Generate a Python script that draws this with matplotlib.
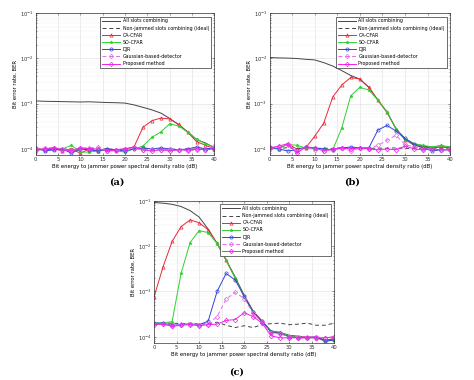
import matplotlib
matplotlib.use("Agg")
import matplotlib.pyplot as plt
from matplotlib.ticker import LogLocator, NullFormatter

# eje x comun (dB)
ebnj = [0, 2, 4, 6, 8, 10, 12, 14, 16, 18, 20, 22, 24, 26, 28, 30, 32, 34, 36, 38, 40]

labels = ["All slots combining", "Non-jammed slots combining (ideal)", "CA-CFAR",
          "SO-CFAR", "DJR", "Gaussian-based-detector", "Proposed method"]

# panel (a)
allslots_a = [1.15e-3, 1.13e-3, 1.12e-3, 1.11e-3, 1.10e-3, 1.09e-3, 1.10e-3, 1.08e-3, 1.06e-3, 1.05e-3, 1.03e-3,
              9.4e-4, 8.3e-4, 7.3e-4, 6.2e-4, 4.7e-4, 3.4e-4, 2.4e-4, 1.6e-4, 1.35e-4, 1.05e-4]
nonjam_a = [1.02e-4, 9.6e-5, 1.0e-4, 9.8e-5, 1.01e-4, 9.7e-5, 1.0e-4, 9.9e-5, 1.0e-4, 9.6e-5, 1.0e-4,
            9.8e-5, 1.02e-4, 9.7e-5, 1.0e-4, 9.9e-5, 9.7e-5, 1.0e-4, 9.8e-5, 1.0e-4, 9.9e-5]
ca_a = [1.05e-4, 9.5e-5, 1.0e-4, 9.0e-5, 1.0e-4, 8.0e-5, 1.0e-4, 9.0e-5, 1.0e-4, 9.5e-5, 1.0e-4,
        1.1e-4, 3.0e-4, 4.2e-4, 4.8e-4, 4.6e-4, 3.5e-4, 2.35e-4, 1.45e-4, 1.2e-4, 1.0e-4]
so_a = [9.0e-5, 1.0e-4, 1.05e-4, 1.0e-4, 1.2e-4, 8.5e-5, 8.5e-5, 9.0e-5, 9.5e-5, 9.0e-5, 8.5e-5,
        1.0e-4, 1.15e-4, 1.8e-4, 2.35e-4, 3.6e-4, 3.2e-4, 2.35e-4, 1.65e-4, 1.3e-4, 1.1e-4]
djr_a = [1.05e-4, 9.0e-5, 9.5e-5, 1.0e-4, 8.0e-5, 1.0e-4, 9.5e-5, 9.0e-5, 1.0e-4, 9.5e-5, 9.0e-5,
         1.0e-4, 1.05e-4, 1.0e-4, 1.05e-4, 1.0e-4, 9.5e-5, 1.0e-4, 1.1e-4, 1.0e-4, 1.05e-4]
gauss_a = [1.0e-4, 1.05e-4, 1.05e-4, 1.0e-4, 9.5e-5, 1.05e-4, 1.05e-4, 1.1e-4, 9.0e-5, 9.0e-5, 1.0e-4,
           1.05e-4, 9.5e-5, 1.0e-4, 9.5e-5, 1.0e-4, 9.5e-5, 9.0e-5, 9.5e-5, 9.5e-5, 1.15e-4]
prop_a = [9.5e-5, 1.0e-4, 1.05e-4, 9.5e-5, 9.0e-5, 1.05e-4, 1.0e-4, 1.0e-4, 9.0e-5, 9.5e-5, 1.0e-4,
          1.1e-4, 9.5e-5, 9.0e-5, 9.5e-5, 9.0e-5, 9.5e-5, 9.5e-5, 1.0e-4, 9.5e-5, 1.0e-4]

# panel (b)
allslots_b = [1.05e-2, 1.03e-2, 1.02e-2, 1.0e-2, 9.6e-3, 9.3e-3, 8.1e-3, 6.8e-3, 5.4e-3, 4.2e-3, 3.5e-3,
              2.3e-3, 1.2e-3, 6.6e-4, 2.8e-4, 1.7e-4, 1.3e-4, 1.15e-4, 1.1e-4, 1.1e-4, 1.1e-4]
nonjam_b = [1.05e-4, 1.02e-4, 1.06e-4, 1.03e-4, 1.05e-4, 1.01e-4, 1.04e-4, 1.02e-4, 1.06e-4, 1.03e-4, 1.05e-4,
            1.02e-4, 1.04e-4, 1.03e-4, 1.05e-4, 1.02e-4, 1.04e-4, 1.03e-4, 1.05e-4, 1.02e-4, 1.04e-4]
ca_b = [1.1e-4, 1.0e-4, 1.3e-4, 1.0e-4, 1.05e-4, 1.9e-4, 3.7e-4, 1.4e-3, 2.6e-3, 3.8e-3, 3.5e-3,
        2.3e-3, 1.2e-3, 6.5e-4, 2.8e-4, 1.6e-4, 1.2e-4, 1.1e-4, 1.05e-4, 1.1e-4, 1.05e-4]
so_b = [1.05e-4, 1.0e-4, 1.25e-4, 1.2e-4, 1.05e-4, 1.0e-4, 1.0e-4, 9.5e-5, 2.9e-4, 1.5e-3, 2.3e-3,
        2.0e-3, 1.2e-3, 6.5e-4, 2.8e-4, 1.6e-4, 1.3e-4, 1.2e-4, 1.1e-4, 1.2e-4, 1.1e-4]
djr_b = [1.1e-4, 1.0e-4, 9.0e-5, 9.5e-5, 1.1e-4, 1.05e-4, 1.0e-4, 9.5e-5, 1.05e-4, 1.1e-4, 1.05e-4,
         1.05e-4, 2.6e-4, 3.3e-4, 2.5e-4, 1.7e-4, 1.25e-4, 1.05e-4, 9.0e-5, 9.5e-5, 9.5e-5]
gauss_b = [1.05e-4, 1.1e-4, 1.2e-4, 9.0e-5, 1.1e-4, 9.5e-5, 9.0e-5, 9.5e-5, 1.05e-4, 9.0e-5, 1.05e-4,
           1.0e-4, 1.2e-4, 1.55e-4, 2.0e-4, 1.25e-4, 1.1e-4, 1.0e-4, 1.0e-4, 9.5e-5, 1.0e-4]
prop_b = [1.05e-4, 1.15e-4, 1.3e-4, 8.0e-5, 1.1e-4, 1.05e-4, 9.0e-5, 1.0e-4, 1.05e-4, 1.0e-4, 1.05e-4,
          1.0e-4, 9.5e-5, 1.0e-4, 9.5e-5, 1.15e-4, 1.0e-4, 9.5e-5, 1.0e-4, 9.5e-5, 9.5e-5]

# panel (c)
allslots_c = [9.2e-2, 8.9e-2, 8.4e-2, 7.5e-2, 6.1e-2, 4.4e-2, 2.4e-2, 1.15e-2, 5.0e-3, 2.1e-3, 8.3e-4,
              3.7e-4, 2.2e-4, 1.35e-4, 1.25e-4, 1.08e-4, 1.03e-4, 1.0e-4, 9.8e-5, 8.5e-5, 9.0e-5]
nonjam_c = [2.0e-4, 2.0e-4, 2.0e-4, 1.95e-4, 2.0e-4, 1.9e-4, 1.95e-4, 2.1e-4, 1.8e-4, 1.6e-4, 1.75e-4,
            1.6e-4, 1.85e-4, 1.95e-4, 2.0e-4, 1.85e-4, 1.9e-4, 2.0e-4, 1.8e-4, 1.8e-4, 2.0e-4]
ca_c = [7.6e-4, 3.5e-3, 1.27e-2, 2.7e-2, 3.8e-2, 3.3e-2, 2.3e-2, 1.15e-2, 4.9e-3, 2.0e-3, 7.8e-4,
        3.6e-4, 2.2e-4, 1.3e-4, 1.2e-4, 1.02e-4, 1.0e-4, 1.0e-4, 9.5e-5, 8.5e-5, 9.0e-5]
so_c = [2.0e-4, 2.05e-4, 2.15e-4, 2.5e-3, 1.2e-2, 2.2e-2, 2.0e-2, 1.15e-2, 4.9e-3, 2.0e-3, 7.8e-4,
        3.5e-4, 2.1e-4, 1.3e-4, 1.25e-4, 1.05e-4, 1.0e-4, 9.5e-5, 9.5e-5, 8.0e-5, 8.5e-5]
djr_c = [2.0e-4, 2.0e-4, 1.8e-4, 1.85e-4, 1.95e-4, 1.85e-4, 2.2e-4, 1.0e-3, 2.5e-3, 1.8e-3, 8.0e-4,
         3.5e-4, 2.2e-4, 1.25e-4, 1.2e-4, 1.0e-4, 9.5e-5, 9.5e-5, 1.0e-4, 8.0e-5, 8.5e-5]
gauss_c = [1.9e-4, 1.95e-4, 1.75e-4, 1.9e-4, 1.9e-4, 1.8e-4, 1.9e-4, 2.8e-4, 6.8e-4, 9.5e-4, 7.0e-4,
           3.3e-4, 2.1e-4, 1.2e-4, 1.15e-4, 1.0e-4, 1.0e-4, 1.0e-4, 1.0e-4, 9.5e-5, 1.0e-4]
prop_c = [1.85e-4, 1.9e-4, 1.7e-4, 1.8e-4, 1.85e-4, 1.75e-4, 1.85e-4, 1.9e-4, 2.3e-4, 2.4e-4, 3.4e-4,
          2.8e-4, 2.0e-4, 1.05e-4, 9.5e-5, 9.5e-5, 9.5e-5, 9.5e-5, 9.5e-5, 9.5e-5, 1.0e-4]

FS = 3.8


def draw_panel(ax, curves, tag, tag_xy, fig):
    # estilo de cada curva: color, linea, marcador, relleno
    styles = [
        ("#444444", "-", None, "none"),
        ("#444444", (0, (4, 3)), None, "none"),
        ("#e8283c", "-", "^", "none"),
        ("#2fd02f", "-", "*", "#2fd02f"),
        ("#3344dd", "-", "o", "none"),
        ("#ee66ee", (0, (4, 3)), "D", "none"),
        ("#ee22ee", "-", "D", "none"),
    ]
    for vals, lab, (col, ls, mk, mfc) in zip(curves, labels, styles):
        ax.plot(ebnj, vals, color=col, linestyle=ls, marker=mk, markersize=2.3,
                markerfacecolor=mfc, markeredgewidth=0.5, linewidth=0.7, label=lab)

    ax.set_yscale("log")
    ax.set_xlim(0, 40)
    ax.set_ylim(7.3e-5, 1e-1)
    ax.set_xticks([0, 5, 10, 15, 20, 25, 30, 35, 40])
    ax.yaxis.set_major_locator(LogLocator(base=10, numticks=10))
    ax.yaxis.set_minor_locator(LogLocator(base=10, subs=range(2, 10), numticks=20))
    ax.yaxis.set_minor_formatter(NullFormatter())
    ax.grid(True, which="major", color="#dddddd", linewidth=0.4)
    ax.grid(True, which="minor", axis="y", color="#eeeeee", linewidth=0.3)
    ax.set_axisbelow(True)
    ax.tick_params(which="both", direction="in", top=True, right=True, labelsize=FS,
                   length=1.5, width=0.4, pad=1.5, colors="#333333")
    ax.tick_params(which="minor", length=0.8)
    for sp in ax.spines.values():
        sp.set_linewidth(0.5)
        sp.set_color("#333333")
    ax.set_xlabel("Bit energy to jammer power spectral density ratio (dB)", fontsize=FS, labelpad=1.5)
    ax.set_ylabel("Bit error rate, BER", fontsize=FS, labelpad=1.5)

    leg = ax.legend(loc="upper right", fontsize=3.4, handlelength=3.8, handletextpad=0.6,
                    labelspacing=0.45, borderaxespad=0.7, borderpad=0.4, fancybox=False,
                    framealpha=1, edgecolor="#333333")
    leg.get_frame().set_linewidth(0.5)

    fig.text(tag_xy[0], tag_xy[1], tag, fontsize=7, fontweight="bold", family="DejaVu Serif",
             ha="center", va="center")


fig = plt.figure(figsize=(4.74, 3.8), dpi=100)

ax_a = fig.add_axes([0.0753, 0.592, 0.377, 0.373])
draw_panel(ax_a, [allslots_a, nonjam_a, ca_a, so_a, djr_a, gauss_a, prop_a], "(a)", (0.247, 0.521), fig)

ax_b = fig.add_axes([0.5686, 0.592, 0.381, 0.373])
draw_panel(ax_b, [allslots_b, nonjam_b, ca_b, so_b, djr_b, gauss_b, prop_b], "(b)", (0.743, 0.521), fig)

ax_c = fig.add_axes([0.325, 0.0974, 0.38, 0.374])
draw_panel(ax_c, [allslots_c, nonjam_c, ca_c, so_c, djr_c, gauss_c, prop_c], "(c)", (0.5, 0.021), fig)

fig.savefig("out.png", dpi=100)
